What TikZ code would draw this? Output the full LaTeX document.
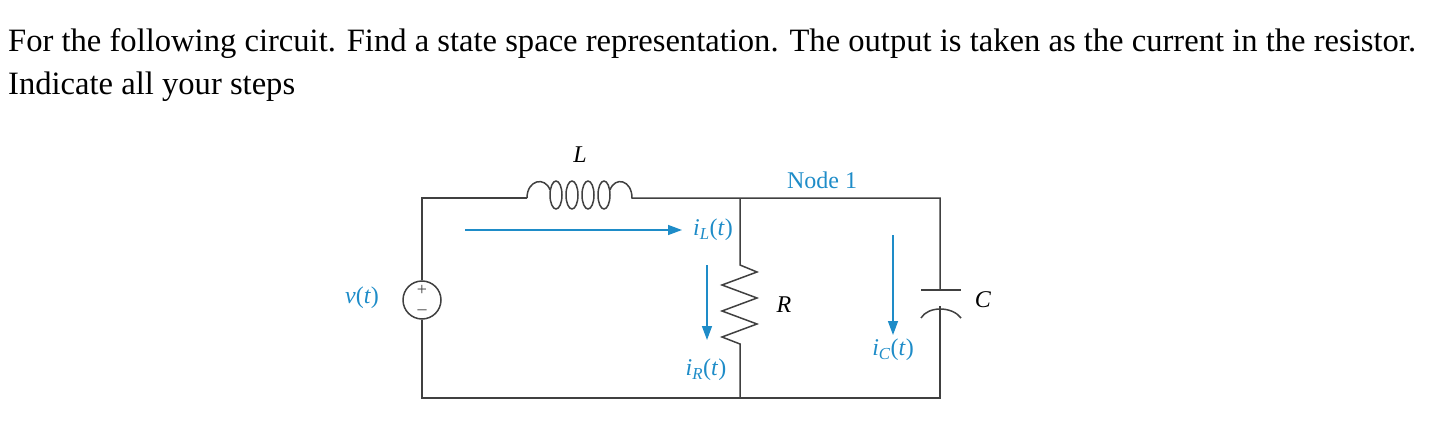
\documentclass[tikz,border=0pt]{standalone}
\usepackage{fontspec}
\setmainfont{Liberation Serif}
\usetikzlibrary{arrows.meta}
\definecolor{cblue}{RGB}{30,140,200}
\tikzset{
  wire/.style={line width=1.5pt, black!75},
  cur/.style={cblue, line width=1.4pt, -{Triangle[length=14pt,width=10pt]}},
  lbl/.style={cblue, font=\fontsize{24}{26}\selectfont},
  blk/.style={font=\fontsize{24}{26}\selectfont},
  sgn/.style={font=\fontsize{18}{18}\selectfont, black!75, inner sep=0}
}
\begin{document}
\begin{tikzpicture}[x=1pt,y=-1pt]
\useasboundingbox (0,0) rectangle (1446,436);
\node[anchor=base west, inner sep=0, font=\fontsize{32.6}{36}\selectfont] (t1) at (8,52) {For the following circuit. Find a state space representation. The output is taken as the current in the resistor.};
\node[anchor=base west, inner sep=0, font=\fontsize{32.6}{36}\selectfont] (t2) at (8,95) {Indicate all your steps};
% corners
\coordinate (tl) at (422,198); \coordinate (tm) at (740,198); \coordinate (tr) at (940,198);
\coordinate (bl) at (422,398); \coordinate (bm) at (740,398); \coordinate (br) at (940,398);
% source
\node[draw, circle, wire, minimum size=38pt, inner sep=0] (src) at (422,300) {};
\node[sgn] (pl) at (422,290) {+};
\node[sgn] (mn) at (422,312) {--};
\draw[wire] (src.north) -- (tl) -- (527,198);
\draw[wire] (src.south) -- (bl) -- (br) -- (940,306);
% inductor
\draw[wire] (527,198) .. controls (527,180) and (545,176) .. (550,190);
\foreach \cx in {556,572,588,604}
  \draw[wire] (\cx,195) ellipse (6 and 14);
\draw[wire] (610,190) .. controls (615,176) and (632,180) .. (632,198) -- (tm) -- (tr) -- (940,290);
% resistor
\draw[wire] (tm) -- (740,265) -- (757,272) -- (722,285) -- (757,298) -- (722,311) -- (757,324) -- (722,337) -- (740,344) -- (bm);
% capacitor
\draw[wire] (921,290) -- (961,290);
\draw[wire] (921,318) .. controls (928,306) and (952,306) .. (961,318);
% currents
\coordinate (a1) at (465,230); \coordinate (a2) at (682,230);
\draw[cur] (a1) -- (a2);
\coordinate (b1) at (707,265); \coordinate (b2) at (707,340);
\draw[cur] (b1) -- (b2);
\coordinate (c1) at (893,235); \coordinate (c2) at (893,335);
\draw[cur] (c1) -- (c2);
% labels
\node[lbl] (iL) at (713,230) {\textit{i\textsubscript{L}}(\textit{t})};
\node[lbl] (iR) at (706,370) {\textit{i\textsubscript{R}}(\textit{t})};
\node[lbl] (iC) at (893,350) {\textit{i\textsubscript{C}}(\textit{t})};
\node[lbl] (n1) at (822,180) {Node 1};
\node[lbl] (v) at (362,298) {\textit{v}(\textit{t})};
\node[blk] (L) at (580,155) {\textit{L}};
\node[blk] (R) at (784,305) {\textit{R}};
\node[blk] (C) at (983,300) {\textit{C}};
\end{tikzpicture}
\end{document}
